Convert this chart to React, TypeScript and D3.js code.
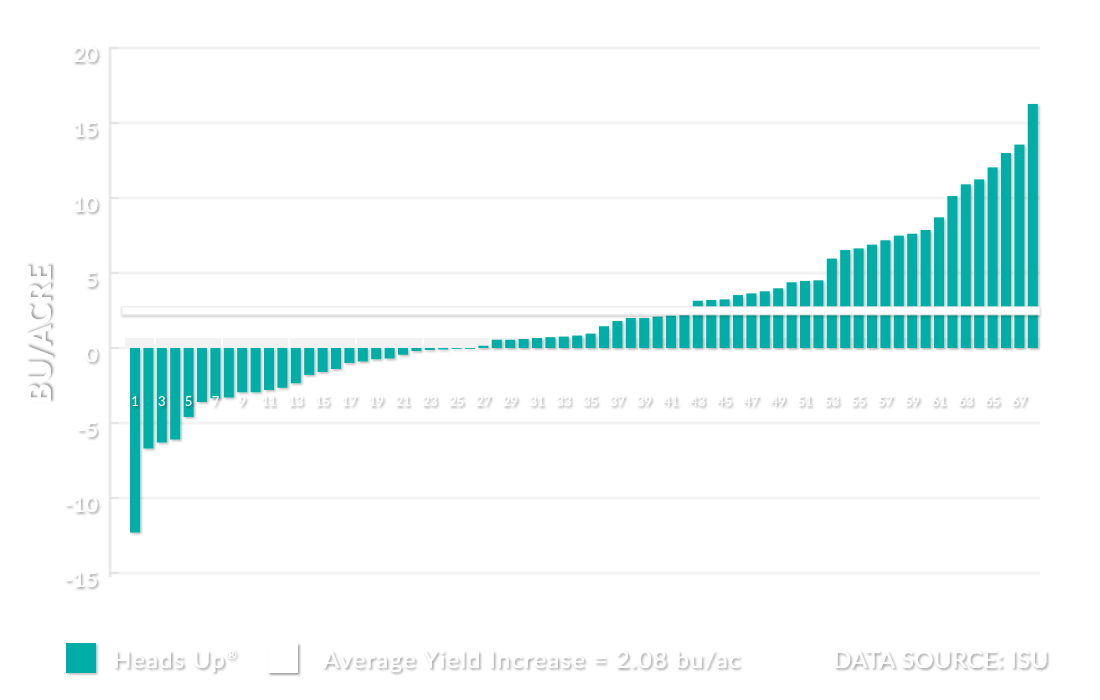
import React from "react";
import * as d3 from "d3";

// yield difference per trial, sorted low to high (bu/acre)
const trialIds = d3.range(1, 69);
const yieldDiff = [
  -12.3, -6.7, -6.3, -6.1, -4.6, -3.6, -3.35, -3.3, -2.95, -2.95,
  -2.8, -2.65, -2.35, -1.8, -1.6, -1.4, -1.0, -0.9, -0.75, -0.7,
  -0.45, -0.2, -0.13, -0.1, -0.05, -0.05, 0.15, 0.55, 0.55, 0.6,
  0.67, 0.72, 0.76, 0.83, 0.96, 1.45, 1.8, 2.0, 2.0, 2.09,
  2.16, 2.2, 3.15, 3.2, 3.24, 3.53, 3.64, 3.78, 3.98, 4.38,
  4.47, 4.51, 5.96, 6.53, 6.64, 6.89, 7.18, 7.49, 7.62, 7.87,
  8.71, 10.13, 10.91, 11.24, 12.04, 13.0, 13.56, 16.27,
];
const avgIncrease = 2.08;
const yTicks = [-15, -10, -5, 0, 5, 10, 15, 20];

const TEAL = "#00aea7";
const FONT = "Lato, 'Open Sans', sans-serif";

export default function App() {
  const width = 1100;
  const height = 700;

  const x = d3
    .scaleBand<number>()
    .domain(trialIds)
    .range([128.3, 1039.5])
    .paddingInner(0.25)
    .paddingOuter(0.125);

  const y = d3.scaleLinear().domain([-15, 20]).range([573, 48]);

  const gridLeft = 110;
  const gridRight = 1040;
  const y0 = y(0);

  // white tick marks sitting on the zero line, every fifth bar gap
  const zeroTicks = trialIds.filter((d) => d % 5 === 2 && d < 68);

  return (
    <div style={{ position: "absolute", left: 0, top: 0 }}>
      <svg width={width} height={height} style={{ display: "block", background: "#fff" }}>
        <defs>
          <filter id="txtShadow" x="-30%" y="-30%" width="160%" height="180%">
            <feDropShadow dx="1.6" dy="1.8" stdDeviation="1.2" floodColor="#000" floodOpacity="0.4" />
          </filter>
          <filter id="barShadow" x="-40%" y="-10%" width="180%" height="130%">
            <feDropShadow dx="1.5" dy="1.5" stdDeviation="1" floodColor="#000" floodOpacity="0.28" />
          </filter>
          <filter id="lineShadow" x="-5%" y="-100%" width="110%" height="300%">
            <feDropShadow dx="0" dy="1.5" stdDeviation="1.2" floodColor="#000" floodOpacity="0.25" />
          </filter>
        </defs>

        {/* grid lines */}
        {yTicks.map((t) => (
          <line
            key={"g" + t}
            x1={gridLeft}
            x2={gridRight}
            y1={y(t)}
            y2={y(t)}
            stroke="#f3f3f3"
            strokeWidth={3}
          />
        ))}
        {/* y axis line and tick marks */}
        <line x1={gridLeft} x2={gridLeft} y1={y(20) - 1.5} y2={y(-15) + 4} stroke="#e9e9e9" strokeWidth={3} />
        {yTicks.map((t) => (
          <line
            key={"t" + t}
            x1={gridLeft}
            x2={gridLeft + 9}
            y1={y(t)}
            y2={y(t)}
            stroke="#e6e6e6"
            strokeWidth={2}
          />
        ))}

        {/* y tick labels */}
        <g filter="url(#txtShadow)" fill="#fff" fontFamily={FONT} fontSize={22} textAnchor="end">
          {yTicks.map((t) => (
            <text key={"l" + t} x={98} y={y(t) + 14}>
              {t}
            </text>
          ))}
        </g>

        {/* axis title */}
        <text
          transform={`translate(51, ${y0 - 13}) rotate(-90)`}
          textAnchor="middle"
          fill="#fff"
          filter="url(#txtShadow)"
          fontFamily={FONT}
          fontWeight={900}
          fontSize={32}
        >
          BU/ACRE
        </text>

        {/* zero band with small separators */}
        <rect x={125} y={y0 - 10} width={gridRight - 125} height={10} fill="#f2f2f2" />
        {zeroTicks.map((d) => (
          <line
            key={"z" + d}
            x1={(x(d) as number) + x.bandwidth() + x.step() * 0.125}
            x2={(x(d) as number) + x.bandwidth() + x.step() * 0.125}
            y1={y0 - 10}
            y2={y0}
            stroke="#fff"
            strokeWidth={1.5}
          />
        ))}

        {/* bars */}
        <g filter="url(#barShadow)">
          {yieldDiff.map((v, i) => (
            <rect
              key={"b" + i}
              x={x(trialIds[i])}
              y={Math.min(y(v), y0)}
              width={x.bandwidth()}
              height={Math.max(Math.abs(y(v) - y0), 0.8)}
              fill={TEAL}
            />
          ))}
        </g>

        {/* average line */}
        <rect
          x={122}
          y={y(avgIncrease) - 10}
          width={gridRight - 122}
          height={8}
          fill="#fff"
          stroke="#e4e4e4"
          strokeWidth={0.8}
          filter="url(#lineShadow)"
        />

        {/* trial numbers */}
        <g filter="url(#txtShadow)" fill="#fff" fontFamily={FONT} fontSize={13} textAnchor="middle">
          {trialIds
            .filter((d) => d % 2 === 1)
            .map((d) => (
              <text key={"n" + d} x={(x(d) as number) + x.bandwidth() / 2} y={406}>
                {d}
              </text>
            ))}
        </g>

        {/* legend */}
        <rect x={66} y={643} width={30} height={30} fill={TEAL} filter="url(#barShadow)" />
        <rect x={268} y={643} width={30} height={30} fill="#fff" filter="url(#txtShadow)" />
        <g filter="url(#txtShadow)" fill="#fff" fontFamily={FONT} fontSize={24}>
          <text x={113} y={668} letterSpacing={1.2}>
            Heads Up
            <tspan fontSize={13} dy={-9}>®</tspan>
          </text>
          <text x={323} y={668} letterSpacing={1.2}>
            Average Yield Increase = {avgIncrease.toFixed(2)} bu/ac
          </text>
          <text x={833} y={668} letterSpacing={0.3}>
            DATA SOURCE: ISU
          </text>
        </g>
      </svg>
    </div>
  );
}
